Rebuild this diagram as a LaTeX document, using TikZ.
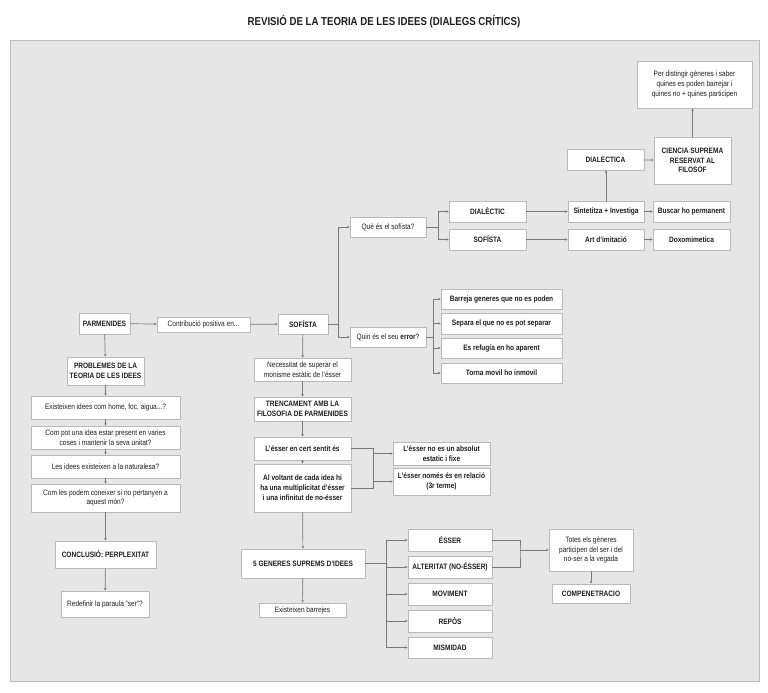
\documentclass[tikz,border=0pt]{standalone}
\usepackage{fontspec}
\setmainfont{Liberation Sans}[FakeStretch=0.84]
\usepackage{xcolor}
\definecolor{panelgray}{RGB}{230,230,230}
\definecolor{panelline}{RGB}{190,190,190}
\definecolor{boxline}{RGB}{185,185,185}
\definecolor{linkgray}{RGB}{120,120,120}
\definecolor{inkgray}{RGB}{30,30,30}
\usepackage{tikz}
\usetikzlibrary{arrows.meta, positioning, calc}

\begin{document}
\begin{tikzpicture}[
  x=1pt, y=-1pt,
  box/.style={rectangle, draw=boxline, line width=0.7pt, fill=white, inner sep=1pt, align=center, text=inkgray, font=\fontsize{7.8}{9.8}\selectfont},
  bbox/.style={box, font=\fontsize{7.8}{9.8}\selectfont\bfseries},
  link/.style={draw=linkgray, line width=0.7pt},
  arr/.style={link, -{Stealth[length=2.6pt, width=2.4pt]}}
]
  \useasboundingbox (0,0) rectangle (768,693);
  \node[font=\fontsize{11.5}{13}\selectfont\bfseries, text=inkgray] (title) at (384,22) {REVISIÓ DE LA TEORIA DE LES IDEES (DIALEGS CRÍTICS)};
  \draw[draw=panelline, fill=panelgray, line width=0.8pt] (10,40) rectangle (759,681);

  \node[bbox, minimum width=51, minimum height=21] (parm) at (104.5,323.5) {PARMENIDES};
  \node[box, minimum width=93, minimum height=15] (contrib) at (203.5,324.5) {Contribució positiva en...};
  \node[bbox, minimum width=50, minimum height=20] (sofista) at (303,324) {SOFÍSTA};
  \node[box, minimum width=76, minimum height=20] (que) at (388,227) {Què és el sofísta?};
  \node[box, minimum width=76, minimum height=20] (quin) at (388,337) {Quin és el seu \textbf{error}?};

  \node[bbox, minimum width=77, minimum height=21] (dialectic) at (487.5,211.5) {DIALÈCTIC};
  \node[bbox, minimum width=77, minimum height=21] (sofistab) at (487.5,239.5) {SOFÍSTA};
  \node[bbox, minimum width=76, minimum height=21] (sint) at (606,211.5) {Sintetitza + Investiga};
  \node[bbox, minimum width=76, minimum height=21] (art) at (606,239.5) {Art d'imitació};
  \node[bbox, minimum width=77, minimum height=21] (buscar) at (691.5,211.5) {Buscar ho permanent};
  \node[bbox, minimum width=77, minimum height=21] (doxo) at (691.5,239.5) {Doxomimetica};
  \node[bbox, minimum width=77, minimum height=21] (dialectica) at (605.5,159.5) {DIALECTICA};
  \node[bbox, minimum width=77, minimum height=47] (ciencia) at (692.5,160.5) {CIENCIA SUPREMA\\RESERVAT AL\\FILOSOF};
  \node[box, minimum width=115, minimum height=47] (distingir) at (694.5,84.5) {Per distingir gèneres i saber\\quines es poden barrejar i\\quines no + quines participen};

  \node[bbox, minimum width=121, minimum height=20] (barreja) at (501.5,299) {Barreja generes que no es poden};
  \node[bbox, minimum width=121, minimum height=21] (separa) at (501.5,323.5) {Separa el que no es pot separar};
  \node[bbox, minimum width=121, minimum height=20] (refugia) at (501.5,348) {Es refugía en ho aparent};
  \node[bbox, minimum width=121, minimum height=20] (torna) at (501.5,373) {Torna movil ho inmovil};

  \node[bbox, minimum width=77, minimum height=28] (problemes) at (105.5,371) {PROBLEMES DE LA\\TEORIA DE LES IDEES};
  \node[box, minimum width=149, minimum height=23] (existeixen) at (105.5,407.5) {Existeixen idees com home, foc, aigua...?};
  \node[box, minimum width=149, minimum height=23] (compot) at (105.5,437.5) {Com pot una idea estar present en varies\\coses i mantenir la seva unitat?};
  \node[box, minimum width=149, minimum height=23] (natura) at (105.5,466.5) {Les idees existeixen a la naturalesa?};
  \node[box, minimum width=149, minimum height=28] (conei) at (105.5,498) {Com les podem coneixer si no pertanyen a\\aquest món?};
  \node[bbox, minimum width=101, minimum height=27] (conclusio) at (105.5,554.5) {CONCLUSIÓ: PERPLEXITAT};
  \node[box, minimum width=88, minimum height=26] (redefinir) at (105,604) {Redefinir la paraula "ser"?};

  \node[box, minimum width=97, minimum height=23] (necessitat) at (302.5,369.5) {Necessitat de superar el\\monisme estàtic de l'ésser};
  \node[bbox, minimum width=97, minimum height=24] (trencament) at (302.5,409) {TRENCAMENT AMB LA\\FILOSOFIA DE PARMENIDES};
  \node[bbox, minimum width=97, minimum height=23] (sentit) at (302.5,448.5) {L'ésser en cert sentit és};
  \node[bbox, minimum width=97, minimum height=48] (voltant) at (302.5,488) {Al voltant de cada idea hi\\ha una multiplicitat d'ésser\\i una infinitut de no-ésser};
  \node[bbox, minimum width=97, minimum height=23] (absolut) at (441.5,453.5) {L'ésser no es un absolut\\estatic i fixe};
  \node[bbox, minimum width=97, minimum height=27] (relacio) at (441.5,481.5) {L'ésser només és en relació\\(3r terme)};

  \node[bbox, minimum width=124, minimum height=29] (generes) at (303,563.5) {5 GENERES SUPREMS D'IDEES};
  \node[box, minimum width=87, minimum height=14] (barrejes) at (302.5,610) {Existeixen barrejes};
  \node[bbox, minimum width=84, minimum height=22] (esser) at (450,540) {ÉSSER};
  \node[bbox, minimum width=84, minimum height=22] (alteritat) at (450,567) {ALTERITAT (NO-ÉSSER)};
  \node[bbox, minimum width=84, minimum height=22] (moviment) at (450,594) {MOVIMENT};
  \node[bbox, minimum width=84, minimum height=22] (repos) at (450,621) {REPÒS};
  \node[bbox, minimum width=84, minimum height=21] (mismidad) at (450,647.5) {MISMIDAD};
  \node[box, minimum width=84, minimum height=42] (totes) at (591,550) {Totes els gèneres\\participen del ser i del\\no-ser a la vegada};
  \node[bbox, minimum width=78, minimum height=19] (compen) at (591,593.5) {COMPENETRACIO};

  \coordinate (jsent) at (373,468);
  \coordinate (jess) at (520,550);

  \draw[arr] (parm) -- (contrib);
  \draw[arr] (contrib) -- (sofista);
  \draw[arr] (parm) -- (problemes);
  \draw[arr] (problemes) -- (existeixen);
  \draw[arr] (existeixen) -- (compot);
  \draw[arr] (compot) -- (natura);
  \draw[arr] (natura) -- (conei);
  \draw[arr] (conei) -- (conclusio);
  \draw[arr] (conclusio) -- (redefinir);

  \draw[arr] (sofista.east) -- ++(10,0) |- (que.west);
  \draw[arr] (sofista.east) -- ++(10,0) |- (quin.west);
  \draw[arr] (que.east) -- ++(12,0) |- (dialectic.west);
  \draw[arr] (que.east) -- ++(12,0) |- (sofistab.west);
  \foreach \n in {barreja, separa, refugia, torna}
    \draw[arr] (quin.east) -- ++(7,0) |- (\n.west);
  \draw[arr] (dialectic) -- (sint);
  \draw[arr] (sofistab) -- (art);
  \draw[arr] (sint) -- (buscar);
  \draw[arr] (art) -- (doxo);
  \draw[arr] (sint.north) -- (sint.north |- dialectica.south);
  \draw[arr] (dialectica) -- (ciencia);
  \draw[arr] (ciencia.north) -- (ciencia.north |- distingir.south);

  \draw[arr] (sofista) -- (necessitat);
  \draw[arr] (necessitat) -- (trencament);
  \draw[arr] (trencament) -- (sentit);
  \draw[arr] (sentit) -- (voltant);
  \draw[link] (sentit.east) -| (jsent) |- (voltant.east);
  \draw[arr] (jsent) |- (absolut.west);
  \draw[arr] (jsent) |- (relacio.west);
  \draw[arr] (voltant) -- (generes);
  \draw[arr] (generes) -- (barrejes);
  \foreach \n in {esser, alteritat, moviment, repos, mismidad}
    \draw[arr] (generes.east) -- ++(21,0) |- (\n.west);
  \draw[link] (esser.east) -| (jess) |- (alteritat.east);
  \draw[arr] (jess) -- (totes.west);
  \draw[arr] (totes) -- (compen);
\end{tikzpicture}
\end{document}
